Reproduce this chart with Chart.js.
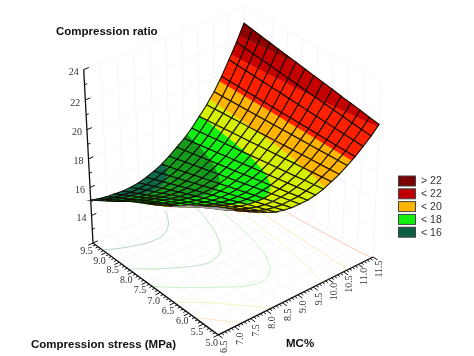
<!DOCTYPE html>
<html>
<head>
<meta charset="utf-8">
<title>Compression ratio</title>
<script src="https://cdn.jsdelivr.net/npm/chart.js@4"></script>
<style>
  html, body { margin: 0; padding: 0; background: #fff; }
  canvas { display: block; }
</style>
</head>
<body>
<canvas id="surface" width="474" height="356"></canvas>
<script>
// axis values
const mcTicks = [6.5, 7.0, 7.5, 8.0, 8.5, 9.0, 9.5, 10.0, 10.5, 11.0, 11.5];
const stressTicks = [5.0, 5.5, 6.0, 6.5, 7.0, 7.5, 8.0, 8.5, 9.0, 9.5];
const ratioTicks = [14, 16, 18, 20, 22, 24];

// surface, one row per stress step (5.0 -> 9.5), one column per MC step (6.5 -> 11.5)
const ratioGrid = [
  [20.60,20.25,19.89,19.59,19.29,19.01,18.74,18.52,18.39,18.30,18.30,18.30,18.40,18.55,18.80,19.05,19.40,19.75,20.20,20.65,21.20],
  [20.20,19.87,19.53,19.25,18.98,18.72,18.47,18.28,18.17,18.11,18.13,18.16,18.28,18.45,18.73,19.00,19.37,19.76,20.24,20.73,21.31],
  [19.84,19.51,19.20,18.93,18.67,18.43,18.22,18.05,17.96,17.92,17.97,18.02,18.16,18.36,18.65,18.95,19.35,19.76,20.28,20.80,21.43],
  [19.49,19.18,18.88,18.62,18.38,18.17,17.96,17.82,17.75,17.73,17.80,17.88,18.04,18.26,18.58,18.90,19.32,19.77,20.32,20.88,21.54],
  [19.07,18.78,18.51,18.28,18.06,17.87,17.69,17.58,17.53,17.54,17.63,17.74,17.92,18.16,18.51,18.85,19.29,19.78,20.36,20.96,21.65],
  [18.65,18.38,18.13,17.92,17.73,17.57,17.42,17.34,17.32,17.35,17.47,17.60,17.80,18.07,18.43,18.80,19.27,19.78,20.40,21.03,21.77],
  [18.30,18.04,17.80,17.62,17.43,17.29,17.16,17.10,17.11,17.16,17.30,17.46,17.68,17.97,18.36,18.75,19.24,19.79,20.44,21.11,21.88],
  [17.96,17.72,17.49,17.32,17.15,17.01,16.91,16.87,16.90,16.97,17.13,17.32,17.56,17.87,18.29,18.70,19.21,19.80,20.48,21.19,21.99],
  [17.64,17.41,17.19,17.03,16.87,16.75,16.66,16.64,16.69,16.78,16.96,17.18,17.44,17.77,18.22,18.65,19.18,19.81,20.52,21.27,22.10],
  [17.32,17.09,16.88,16.73,16.58,16.48,16.41,16.41,16.48,16.59,16.80,17.04,17.32,17.68,18.14,18.60,19.16,19.81,20.56,21.34,22.22],
  [17.00,16.78,16.58,16.44,16.30,16.21,16.16,16.18,16.27,16.40,16.63,16.90,17.20,17.58,18.07,18.55,19.13,19.82,20.60,21.42,22.33],
  [16.60,16.40,16.22,16.10,15.98,15.92,15.89,15.94,16.05,16.21,16.46,16.76,17.08,17.48,18.00,18.50,19.10,19.83,20.64,21.50,22.44],
  [16.21,16.02,15.86,15.76,15.66,15.63,15.63,15.71,15.84,16.02,16.30,16.62,16.96,17.39,17.92,18.45,19.08,19.83,20.68,21.57,22.56],
  [15.84,15.67,15.53,15.45,15.36,15.35,15.37,15.47,15.62,15.83,16.13,16.48,16.84,17.29,17.85,18.40,19.05,19.84,20.72,21.65,22.67],
  [15.47,15.30,15.19,15.12,15.05,15.07,15.11,15.23,15.41,15.64,15.96,16.34,16.72,17.19,17.78,18.35,19.02,19.84,20.76,21.72,22.79],
  [15.10,14.95,14.85,14.80,14.75,14.78,14.85,15.00,15.20,15.45,15.80,16.20,16.60,17.10,17.70,18.30,19.00,19.85,20.80,21.80,22.90]
];

// colour bands of the surface
const bandLevels = [15.55, 16.8, 17.75, 18.6, 19.6, 21.1, 22.2];
const bandColors = ['#0c6b4c', '#159c1c', '#12f012', '#d6f000', '#ffb400', '#ff2000', '#c40000', '#8c0000'];
const contourColors = ['#b9d3c8', '#bfe3c0', '#c8f2c8', '#f2f5bf', '#fbe8bc', '#f8c8b8', '#eab8b8'];

const legendLabels = ['> 22', '< 22', '< 20', '< 18', '< 16'];
const legendColors = ['#7d0000', '#c00000', '#ffb400', '#10f010', '#0b5f45'];

// perspective of the box, worked out from its corners
const cornerA = [93, 243], cornerC = [373, 257], cornerD = [244, 175], cornerF = [244, 7];
const persA = 0.9485, persC = 0.934, persF = 0.945;

function project(mc, stress, ratio) {
  const a = (11.5 - mc) / 5, b = (9.5 - stress) / 4.5, w = (ratio - 12) / 12;
  const h = 1 + (persA - 1) * a + (persC - 1) * b + (persF - 1) * w;
  const at = k => (cornerD[k] + a * (persA * cornerA[k] - cornerD[k]) + b * (persC * cornerC[k] - cornerD[k]) + w * (persF * cornerF[k] - cornerD[k])) / h;
  return { x: at(0), y: at(1) };
}

const mcAt = i => 6.5 + i * 0.25;
const stressAt = j => 5 + j * 0.3;
const GAP = { x: NaN, y: NaN };

function lineSet(data, color, width) {
  return { data, showLine: true, fill: false, borderColor: color, borderWidth: width, pointRadius: 0, tension: 0 };
}

// cut a cell polygon down to one band
function clipBand(poly, lo, hi) {
  const cut = (pts, keep, level) => {
    const out = [];
    pts.forEach((p, n) => {
      const q = pts[(n + 1) % pts.length];
      if (keep(p)) out.push(p);
      if (keep(p) !== keep(q)) {
        const t = (level - p.z) / (q.z - p.z);
        out.push({ i: p.i + (q.i - p.i) * t, j: p.j + (q.j - p.j) * t, z: level });
      }
    });
    return out;
  };
  let res = cut(poly, p => p.z >= lo, lo);
  if (res.length) res = cut(res, p => p.z <= hi, hi);
  return res;
}

const datasets = [];

// faint grid on floor and the two back walls
const gridColor = '#f6f6f6';
mcTicks.forEach(m => {
  datasets.push(lineSet([project(m, 5, 12), project(m, 9.5, 12), project(m, 9.5, 24)], gridColor, 1));
});
stressTicks.forEach(s => {
  datasets.push(lineSet([project(6.5, s, 12), project(11.5, s, 12)], gridColor, 1));
  datasets.push(lineSet([project(11.5, s, 12), project(11.5, s, 24)], gridColor, 1));
});
ratioTicks.forEach(r => {
  datasets.push(lineSet([project(6.5, 9.5, r), project(11.5, 9.5, r), project(11.5, 5, r)], gridColor, 1));
});

// contour lines on the floor
bandLevels.forEach((level, n) => {
  const pts = [];
  for (let j = 0; j < ratioGrid.length - 1; j++) {
    for (let i = 0; i < ratioGrid[0].length - 1; i++) {
      const cell = [[i, j], [i + 1, j], [i + 1, j + 1], [i, j + 1]];
      const hits = [];
      cell.forEach((c, k) => {
        const d = cell[(k + 1) % 4];
        const z1 = ratioGrid[c[1]][c[0]], z2 = ratioGrid[d[1]][d[0]];
        if ((z1 < level) !== (z2 < level)) {
          const t = (level - z1) / (z2 - z1);
          hits.push(project(mcAt(c[0] + (d[0] - c[0]) * t), stressAt(c[1] + (d[1] - c[1]) * t), 12));
        }
      });
      if (hits.length >= 2) pts.push(hits[0], hits[1], GAP);
    }
  }
  datasets.push(lineSet(pts, contourColors[n], 1));
});

// axes and their ticks
const tickPts = [];
for (let s = 50; s <= 95; s++) {
  const major = s % 5 === 0;
  tickPts.push(project(6.5, s / 10, 12), project(major ? 6.35 : 6.42, s / 10, 12), GAP);
}
for (let m = 65; m <= 115; m++) {
  const major = m % 5 === 0;
  tickPts.push(project(m / 10, 5, 12), project(m / 10, major ? 4.85 : 4.92, 12), GAP);
}
for (let r = 12; r <= 24; r++) {
  tickPts.push(project(6.5, 9.5, r), project(r % 2 === 0 ? 6.65 : 6.58, 9.5, r), GAP);
}
datasets.push(lineSet(tickPts, '#111', 1));
datasets.push(lineSet([project(6.5, 9.5, 24), project(6.5, 9.5, 12), project(6.5, 5, 12), project(11.5, 5, 12)], '#111', 1.3));

// surface cells, painted from the back corner to the front corner
for (let j = ratioGrid.length - 2; j >= 0; j--) {
  for (let i = ratioGrid[0].length - 2; i >= 0; i--) {
    const poly = [[i, j], [i + 1, j], [i + 1, j + 1], [i, j + 1]].map(c => ({ i: c[0], j: c[1], z: ratioGrid[c[1]][c[0]] }));
    const toXY = p => project(mcAt(p.i), stressAt(p.j), p.z);
    const xy = poly.map(toXY);
    let area = 0;
    xy.forEach((p, n) => { const q = xy[(n + 1) % 4]; area += p.x * q.y - q.x * p.y; });
    const underside = area > 0;
    if (underside) {
      datasets.push({ data: xy.concat(xy[0]), showLine: true, fill: 'shape', backgroundColor: '#e6e6e6', borderColor: '#e6e6e6', borderWidth: 0.4, pointRadius: 0, tension: 0 });
    } else {
      bandColors.forEach((color, n) => {
        const lo = n === 0 ? -Infinity : bandLevels[n - 1];
        const hi = n === bandLevels.length ? Infinity : bandLevels[n];
        const part = clipBand(poly, lo, hi);
        if (part.length > 2) {
          const pts = part.map(toXY);
          datasets.push({ data: pts.concat(pts[0]), showLine: true, fill: 'shape', backgroundColor: color, borderColor: color, borderWidth: 0.4, pointRadius: 0, tension: 0 });
        }
      });
    }
    datasets.push(lineSet(xy.concat(xy[0]), underside ? 'rgba(60,60,60,0.45)' : 'rgba(15,8,0,0.95)', underside ? 0.6 : 1.1));
  }
}

// first dataset ends up on top in Chart.js, we want the opposite
datasets.reverse();

const labelsPlugin = {
  id: 'labels',
  afterDraw(chart) {
    const ctx = chart.ctx;
    ctx.save();
    ctx.textBaseline = 'middle';

    ctx.fillStyle = '#333';
    ctx.font = '10px "Liberation Serif"';
    ctx.textAlign = 'right';
    ratioTicks.forEach(r => {
      const p = project(6.5, 9.5, r);
      ctx.fillText(String(r), p.x - 5, p.y + 3);
    });
    ctx.textAlign = 'center';
    stressTicks.forEach(s => {
      const p = project(6.5, s, 12);
      ctx.fillText(s.toFixed(1), p.x - 6.5, p.y + 8.5);
    });
    mcTicks.forEach(m => {
      const p = project(m, 5, 12);
      ctx.save();
      ctx.translate(p.x + 6, p.y + 12);
      ctx.rotate(-Math.PI / 2);
      ctx.fillText(m.toFixed(1), 0, 0);
      ctx.restore();
    });

    ctx.fillStyle = '#111';
    ctx.font = 'bold 11.5px "Liberation Sans"';
    ctx.textAlign = 'left';
    ctx.fillText('Compression ratio', 56, 32);
    ctx.fillText('Compression stress (MPa)', 31, 345);
    ctx.fillText('MC%', 286, 344);

    // legend
    ctx.font = '10.5px "Liberation Sans"';
    legendLabels.forEach((label, n) => {
      const y = 176 + n * 12.8;
      ctx.fillStyle = legendColors[n];
      ctx.fillRect(398.5, y, 17, 10);
      ctx.strokeStyle = '#444';
      ctx.lineWidth = 1;
      ctx.strokeRect(398.5, y, 17, 10);
      ctx.fillStyle = '#333';
      ctx.fillText(label, 421, y + 5.5);
    });
    ctx.restore();
  }
};

new Chart(document.getElementById('surface'), {
  type: 'scatter',
  data: { datasets },
  plugins: [labelsPlugin],
  options: {
    responsive: false,
    animation: false,
    events: [],
    layout: { padding: 0 },
    plugins: { legend: { display: false }, tooltip: { enabled: false } },
    scales: {
      x: { type: 'linear', min: 0, max: 474, display: false },
      y: { type: 'linear', min: 0, max: 356, reverse: true, display: false }
    }
  }
});
</script>
</body>
</html>
